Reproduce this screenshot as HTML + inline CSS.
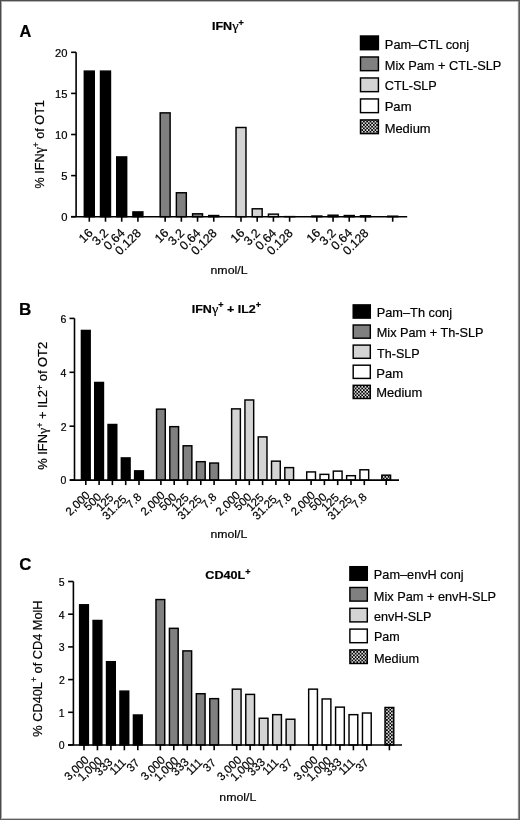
<!DOCTYPE html>
<html><head><meta charset="utf-8"><title>Figure</title>
<style>
html,body{margin:0;padding:0;background:#fff;}
body{width:520px;height:820px;overflow:hidden;}
svg{display:block;}
text{font-family:"Liberation Sans", Arial, Helvetica, sans-serif;fill:#000;stroke:#000;stroke-width:0.2px;}
.serif{font-family:"Liberation Serif",serif;}
.ax{stroke:#000;stroke-width:1.6;fill:none;}
.bar{stroke:#000;stroke-width:1.45;}
</style></head><body>
<svg width="520" height="820" viewBox="0 0 520 820">
<defs>
<pattern id="chk" width="3.3" height="3.4" patternUnits="userSpaceOnUse">
<rect width="3.3" height="3.4" fill="#000"/>
<rect x="0.1" y="0.1" width="1.55" height="1.55" fill="#fff"/>
<rect x="1.75" y="1.8" width="1.55" height="1.55" fill="#fff"/>
</pattern>
</defs>
<rect x="0" y="0" width="520" height="820" fill="#fff"/>
<text transform="translate(19.49 37.3) scale(0.9645 1)" font-weight="bold"><tspan font-size="17">A</tspan></text>
<text transform="translate(211.96 29.7) scale(1.0926 1)" font-weight="bold"><tspan font-size="11.5">IFN</tspan><tspan font-size="13.22" font-weight="normal" class="serif">γ</tspan><tspan font-size="8.28" dy="-4.2">+</tspan></text>
<path d="M76.1 52.3V216.7" class="ax"/>
<path d="M71.1 216.7H76.1" class="ax"/>
<text x="61.21" y="221.31" font-size="11.2">0</text>
<path d="M71.1 175.6H76.1" class="ax"/>
<text x="61.24" y="180.15" font-size="11.2">5</text>
<path d="M71.1 134.5H76.1" class="ax"/>
<text x="54.98" y="139.11" font-size="11.2">10</text>
<path d="M71.1 93.4H76.1" class="ax"/>
<text x="55.01" y="97.95" font-size="11.2">15</text>
<path d="M71.1 52.3H76.1" class="ax"/>
<text x="54.98" y="56.91" font-size="11.2">20</text>
<rect x="84.32" y="71.11" width="9.95" height="145.59" fill="#000" class="bar"/>
<path d="M89.3 216.7v5" class="ax"/>
<text x="93.56" y="233.74" font-size="12.3" text-anchor="end" transform="rotate(-45 93.56 233.74)">16</text>
<rect x="100.52" y="71.11" width="9.95" height="145.59" fill="#000" class="bar"/>
<path d="M105.5 216.7v5" class="ax"/>
<text x="109.14" y="233.83" font-size="12.3" text-anchor="end" transform="rotate(-45 109.14 233.83)">3.2</text>
<rect x="116.72" y="156.93" width="9.95" height="59.77" fill="#000" class="bar"/>
<path d="M121.7 216.7v5" class="ax"/>
<text x="125.5" y="233.79" font-size="12.3" text-anchor="end" transform="rotate(-45 125.5 233.79)">0.64</text>
<rect x="132.92" y="211.92" width="9.95" height="4.78" fill="#000" class="bar"/>
<path d="M137.9 216.7v5" class="ax"/>
<text x="141.88" y="234.03" font-size="12.3" text-anchor="end" transform="rotate(-45 141.88 234.03)">0.128</text>
<rect x="160.17" y="112.87" width="9.95" height="103.83" fill="#808080" class="bar"/>
<path d="M165.15 216.7v5" class="ax"/>
<text x="169.41" y="233.74" font-size="12.3" text-anchor="end" transform="rotate(-45 169.41 233.74)">16</text>
<rect x="176.37" y="192.76" width="9.95" height="23.94" fill="#808080" class="bar"/>
<path d="M181.35 216.7v5" class="ax"/>
<text x="184.99" y="233.83" font-size="12.3" text-anchor="end" transform="rotate(-45 184.99 233.83)">3.2</text>
<rect x="192.57" y="213.81" width="9.95" height="2.89" fill="#808080" class="bar"/>
<path d="M197.55 216.7v5" class="ax"/>
<text x="201.35" y="233.79" font-size="12.3" text-anchor="end" transform="rotate(-45 201.35 233.79)">0.64</text>
<rect x="208.77" y="215.53" width="9.95" height="1.17" fill="#808080" class="bar"/>
<path d="M213.75 216.7v5" class="ax"/>
<text x="217.73" y="234.03" font-size="12.3" text-anchor="end" transform="rotate(-45 217.73 234.03)">0.128</text>
<rect x="236.03" y="127.5" width="9.95" height="89.2" fill="#d4d4d4" class="bar"/>
<path d="M241 216.7v5" class="ax"/>
<text x="245.26" y="233.74" font-size="12.3" text-anchor="end" transform="rotate(-45 245.26 233.74)">16</text>
<rect x="252.22" y="208.79" width="9.95" height="7.91" fill="#d4d4d4" class="bar"/>
<path d="M257.2 216.7v5" class="ax"/>
<text x="260.84" y="233.83" font-size="12.3" text-anchor="end" transform="rotate(-45 260.84 233.83)">3.2</text>
<rect x="268.43" y="214.14" width="9.95" height="2.56" fill="#d4d4d4" class="bar"/>
<path d="M273.4 216.7v5" class="ax"/>
<text x="277.2" y="233.79" font-size="12.3" text-anchor="end" transform="rotate(-45 277.2 233.79)">0.64</text>
<rect x="284.63" y="216.6" width="9.95" height="0.1" fill="#d4d4d4" class="bar"/>
<path d="M289.6 216.7v5" class="ax"/>
<text x="293.58" y="234.03" font-size="12.3" text-anchor="end" transform="rotate(-45 293.58 234.03)">0.128</text>
<rect x="311.88" y="216.03" width="9.95" height="0.67" fill="#fff" class="bar"/>
<path d="M316.85 216.7v5" class="ax"/>
<text x="321.11" y="233.74" font-size="12.3" text-anchor="end" transform="rotate(-45 321.11 233.74)">16</text>
<rect x="328.07" y="215.21" width="9.95" height="1.49" fill="#fff" class="bar"/>
<path d="M333.05 216.7v5" class="ax"/>
<text x="336.69" y="233.83" font-size="12.3" text-anchor="end" transform="rotate(-45 336.69 233.83)">3.2</text>
<rect x="344.27" y="215.53" width="9.95" height="1.17" fill="#fff" class="bar"/>
<path d="M349.25 216.7v5" class="ax"/>
<text x="353.05" y="233.79" font-size="12.3" text-anchor="end" transform="rotate(-45 353.05 233.79)">0.64</text>
<rect x="360.47" y="215.78" width="9.95" height="0.92" fill="#fff" class="bar"/>
<path d="M365.45 216.7v5" class="ax"/>
<text x="369.43" y="234.03" font-size="12.3" text-anchor="end" transform="rotate(-45 369.43 234.03)">0.128</text>
<rect x="387.73" y="216.19" width="9.95" height="0.51" fill="url(#chk)" class="bar"/>
<path d="M392.7 216.7v5" class="ax"/>
<path d="M71 216.7H407.2" class="ax"/>
<text transform="translate(43.6 188.45) rotate(-90) scale(1.0228 1)"><tspan font-size="12.35">% IFN</tspan><tspan font-size="13.59" class="serif">γ</tspan><tspan font-size="8.4" dy="-4.3">+</tspan><tspan font-size="12.35" dy="4.3"> of OT1</tspan></text>
<text transform="translate(210.48 274.2) scale(1.0665 1)"><tspan font-size="11.6">nmol/L</tspan></text>
<rect x="360.5" y="36" width="17.9" height="13.7" fill="#000" class="bar" stroke-width="1.4"/>
<text transform="translate(384.85 48.6) scale(1.0439 1)"><tspan font-size="12.3">Pam–CTL conj</tspan></text>
<rect x="360.5" y="56.98" width="17.9" height="13.7" fill="#808080" class="bar" stroke-width="1.4"/>
<text transform="translate(384.85 70.2) scale(1.0372 1)"><tspan font-size="12.3">Mix Pam + CTL-SLP</tspan></text>
<rect x="360.5" y="77.96" width="17.9" height="13.7" fill="#d4d4d4" class="bar" stroke-width="1.4"/>
<text transform="translate(384.76 90.4) scale(1.0303 1)"><tspan font-size="12.3">CTL-SLP</tspan></text>
<rect x="360.5" y="98.94" width="17.9" height="13.7" fill="#fff" class="bar" stroke-width="1.4"/>
<text transform="translate(384.63 111.4) scale(1.0651 1)"><tspan font-size="12.3">Pam</tspan></text>
<rect x="360.5" y="119.92" width="17.9" height="13.7" fill="url(#chk)" class="bar" stroke-width="1.4"/>
<text transform="translate(384.64 132.6) scale(1.0518 1)"><tspan font-size="12.3">Medium</tspan></text>
<text transform="translate(18.96 314.6) scale(1.0031 1)" font-weight="bold"><tspan font-size="17">B</tspan></text>
<text transform="translate(191.76 312.6) scale(1.0869 1)" font-weight="bold"><tspan font-size="11.5">IFN</tspan><tspan font-size="13.22" font-weight="normal" class="serif">γ</tspan><tspan font-size="8.28" dy="-4.2">+</tspan><tspan font-size="11.5" dy="4.2"> + IL2</tspan><tspan font-size="8.28" dy="-4.2">+</tspan></text>
<path d="M74.5 318.4V480.1" class="ax"/>
<path d="M69.5 480.1H74.5" class="ax"/>
<text x="60.57" y="484.47" font-size="10.5">0</text>
<path d="M69.5 426.2H74.5" class="ax"/>
<text x="60.69" y="430.57" font-size="10.5">2</text>
<path d="M69.5 372.3H74.5" class="ax"/>
<text x="60.47" y="376.61" font-size="10.5">4</text>
<path d="M69.5 318.4H74.5" class="ax"/>
<text x="60.62" y="322.77" font-size="10.5">6</text>
<rect x="81.42" y="330.44" width="8.75" height="149.66" fill="#000" class="bar"/>
<path d="M85.8 480.1v5" class="ax"/>
<text x="90.52" y="495.92" font-size="11.5" text-anchor="end" transform="rotate(-45 90.52 495.92)">2,000</text>
<rect x="94.72" y="382.46" width="8.75" height="97.64" fill="#000" class="bar"/>
<path d="M99.1 480.1v5" class="ax"/>
<text x="102.12" y="497.62" font-size="11.5" text-anchor="end" transform="rotate(-45 102.12 497.62)">500</text>
<rect x="108.03" y="424.5" width="8.75" height="55.6" fill="#000" class="bar"/>
<path d="M112.4 480.1v5" class="ax"/>
<text x="114.4" y="498.23" font-size="11.5" text-anchor="end" transform="rotate(-45 114.4 498.23)">125</text>
<rect x="121.33" y="457.92" width="8.75" height="22.18" fill="#000" class="bar"/>
<path d="M125.7 480.1v5" class="ax"/>
<text x="127.4" y="500.03" font-size="11.5" text-anchor="end" transform="rotate(-45 127.4 500.03)">31.25</text>
<rect x="134.62" y="470.85" width="8.75" height="9.25" fill="#000" class="bar"/>
<path d="M139 480.1v5" class="ax"/>
<text x="142.19" y="497.83" font-size="11.5" text-anchor="end" transform="rotate(-45 142.19 497.83)">7.8</text>
<rect x="156.52" y="409.14" width="8.75" height="70.96" fill="#808080" class="bar"/>
<path d="M160.9 480.1v5" class="ax"/>
<text x="165.62" y="495.92" font-size="11.5" text-anchor="end" transform="rotate(-45 165.62 495.92)">2,000</text>
<rect x="169.82" y="426.66" width="8.75" height="53.44" fill="#808080" class="bar"/>
<path d="M174.2 480.1v5" class="ax"/>
<text x="177.22" y="497.62" font-size="11.5" text-anchor="end" transform="rotate(-45 177.22 497.62)">500</text>
<rect x="183.12" y="445.79" width="8.75" height="34.31" fill="#808080" class="bar"/>
<path d="M187.5 480.1v5" class="ax"/>
<text x="189.5" y="498.23" font-size="11.5" text-anchor="end" transform="rotate(-45 189.5 498.23)">125</text>
<rect x="196.42" y="461.69" width="8.75" height="18.41" fill="#808080" class="bar"/>
<path d="M200.8 480.1v5" class="ax"/>
<text x="202.5" y="500.03" font-size="11.5" text-anchor="end" transform="rotate(-45 202.5 500.03)">31.25</text>
<rect x="209.72" y="463.04" width="8.75" height="17.06" fill="#808080" class="bar"/>
<path d="M214.1 480.1v5" class="ax"/>
<text x="217.29" y="497.83" font-size="11.5" text-anchor="end" transform="rotate(-45 217.29 497.83)">7.8</text>
<rect x="231.62" y="408.87" width="8.75" height="71.23" fill="#d4d4d4" class="bar"/>
<path d="M236 480.1v5" class="ax"/>
<text x="240.72" y="495.92" font-size="11.5" text-anchor="end" transform="rotate(-45 240.72 495.92)">2,000</text>
<rect x="244.93" y="399.98" width="8.75" height="80.12" fill="#d4d4d4" class="bar"/>
<path d="M249.3 480.1v5" class="ax"/>
<text x="252.32" y="497.62" font-size="11.5" text-anchor="end" transform="rotate(-45 252.32 497.62)">500</text>
<rect x="258.23" y="436.9" width="8.75" height="43.2" fill="#d4d4d4" class="bar"/>
<path d="M262.6 480.1v5" class="ax"/>
<text x="264.6" y="498.23" font-size="11.5" text-anchor="end" transform="rotate(-45 264.6 498.23)">125</text>
<rect x="271.52" y="461.15" width="8.75" height="18.95" fill="#d4d4d4" class="bar"/>
<path d="M275.9 480.1v5" class="ax"/>
<text x="277.6" y="500.03" font-size="11.5" text-anchor="end" transform="rotate(-45 277.6 500.03)">31.25</text>
<rect x="284.82" y="467.62" width="8.75" height="12.48" fill="#d4d4d4" class="bar"/>
<path d="M289.2 480.1v5" class="ax"/>
<text x="292.39" y="497.83" font-size="11.5" text-anchor="end" transform="rotate(-45 292.39 497.83)">7.8</text>
<rect x="306.72" y="471.93" width="8.75" height="8.17" fill="#fff" class="bar"/>
<path d="M311.1 480.1v5" class="ax"/>
<text x="315.82" y="495.92" font-size="11.5" text-anchor="end" transform="rotate(-45 315.82 495.92)">2,000</text>
<rect x="320.02" y="474.36" width="8.75" height="5.74" fill="#fff" class="bar"/>
<path d="M324.4 480.1v5" class="ax"/>
<text x="327.42" y="497.62" font-size="11.5" text-anchor="end" transform="rotate(-45 327.42 497.62)">500</text>
<rect x="333.32" y="471.12" width="8.75" height="8.98" fill="#fff" class="bar"/>
<path d="M337.7 480.1v5" class="ax"/>
<text x="339.7" y="498.23" font-size="11.5" text-anchor="end" transform="rotate(-45 339.7 498.23)">125</text>
<rect x="346.62" y="475.7" width="8.75" height="4.4" fill="#fff" class="bar"/>
<path d="M351 480.1v5" class="ax"/>
<text x="352.7" y="500.03" font-size="11.5" text-anchor="end" transform="rotate(-45 352.7 500.03)">31.25</text>
<rect x="359.92" y="469.78" width="8.75" height="10.32" fill="#fff" class="bar"/>
<path d="M364.3 480.1v5" class="ax"/>
<text x="367.49" y="497.83" font-size="11.5" text-anchor="end" transform="rotate(-45 367.49 497.83)">7.8</text>
<rect x="381.82" y="475.17" width="8.75" height="4.93" fill="url(#chk)" class="bar"/>
<path d="M386.2 480.1v5" class="ax"/>
<path d="M70 480.1H399" class="ax"/>
<text transform="translate(47 469.86) rotate(-90) scale(1.0583 1)"><tspan font-size="12.2">% IFN</tspan><tspan font-size="13.42" class="serif">γ</tspan><tspan font-size="8.3" dy="-4.3">+</tspan><tspan font-size="12.2" dy="4.3"> + IL2</tspan><tspan font-size="8.3" dy="-4.3">+</tspan><tspan font-size="12.2" dy="4.3"> of OT2</tspan></text>
<text transform="translate(210.48 538) scale(1.0606 1)"><tspan font-size="11.6">nmol/L</tspan></text>
<rect x="353.2" y="304.9" width="17.1" height="13.2" fill="#000" class="bar" stroke-width="1.4"/>
<text transform="translate(376.75 316.8) scale(1.0392 1)"><tspan font-size="12.3">Pam–Th conj</tspan></text>
<rect x="353.2" y="325" width="17.1" height="13.2" fill="#808080" class="bar" stroke-width="1.4"/>
<text transform="translate(376.76 337) scale(1.0334 1)"><tspan font-size="12.3">Mix Pam + Th-SLP</tspan></text>
<rect x="353.2" y="345.1" width="17.1" height="13.2" fill="#d4d4d4" class="bar" stroke-width="1.4"/>
<text transform="translate(377.12 357.6) scale(1.0227 1)"><tspan font-size="12.3">Th-SLP</tspan></text>
<rect x="353.2" y="365.2" width="17.1" height="13.2" fill="#fff" class="bar" stroke-width="1.4"/>
<text transform="translate(376.33 377.5) scale(1.0651 1)"><tspan font-size="12.3">Pam</tspan></text>
<rect x="353.2" y="385.3" width="17.1" height="13.2" fill="url(#chk)" class="bar" stroke-width="1.4"/>
<text transform="translate(376.34 397.4) scale(1.0518 1)"><tspan font-size="12.3">Medium</tspan></text>
<text transform="translate(19.21 569.6) scale(0.9897 1)" font-weight="bold"><tspan font-size="17">C</tspan></text>
<text transform="translate(205.28 579.1) scale(1.0975 1)" font-weight="bold"><tspan font-size="11.5">CD40L</tspan><tspan font-size="8.28" dy="-4.2">+</tspan></text>
<path d="M73.4 581.5V745" class="ax"/>
<path d="M68.1 745H73.4" class="ax"/>
<text x="58.77" y="749.37" font-size="10.5">0</text>
<path d="M68.1 712.3H73.4" class="ax"/>
<text x="58.87" y="716.61" font-size="10.5">1</text>
<path d="M68.1 679.6H73.4" class="ax"/>
<text x="58.89" y="683.97" font-size="10.5">2</text>
<path d="M68.1 646.9H73.4" class="ax"/>
<text x="58.82" y="651.27" font-size="10.5">3</text>
<path d="M68.1 614.2H73.4" class="ax"/>
<text x="58.67" y="618.51" font-size="10.5">4</text>
<path d="M68.1 581.5H73.4" class="ax"/>
<text x="58.8" y="585.81" font-size="10.5">5</text>
<rect x="79.62" y="604.79" width="8.75" height="140.21" fill="#000" class="bar"/>
<path d="M84 745v5.3" class="ax"/>
<text x="89.47" y="760.77" font-size="11.5" text-anchor="end" transform="rotate(-45 89.47 760.77)">3,000</text>
<rect x="93.08" y="620.48" width="8.75" height="124.52" fill="#000" class="bar"/>
<path d="M97.45 745v5.3" class="ax"/>
<text x="102.67" y="761.42" font-size="11.5" text-anchor="end" transform="rotate(-45 102.67 761.42)">1,000</text>
<rect x="106.53" y="661.69" width="8.75" height="83.31" fill="#000" class="bar"/>
<path d="M110.9 745v5.3" class="ax"/>
<text x="113.19" y="762.82" font-size="11.5" text-anchor="end" transform="rotate(-45 113.19 762.82)">333</text>
<rect x="119.97" y="691.12" width="8.75" height="53.88" fill="#000" class="bar"/>
<path d="M124.35 745v5.3" class="ax"/>
<text x="126.65" y="763.24" font-size="11.5" text-anchor="end" transform="rotate(-45 126.65 763.24)">111</text>
<rect x="133.43" y="714.99" width="8.75" height="30.01" fill="#000" class="bar"/>
<path d="M137.8 745v5.3" class="ax"/>
<text x="140.33" y="763.39" font-size="11.5" text-anchor="end" transform="rotate(-45 140.33 763.39)">37</text>
<rect x="155.97" y="599.56" width="8.75" height="145.44" fill="#808080" class="bar"/>
<path d="M160.35 745v5.3" class="ax"/>
<text x="165.82" y="760.77" font-size="11.5" text-anchor="end" transform="rotate(-45 165.82 760.77)">3,000</text>
<rect x="169.42" y="628.33" width="8.75" height="116.67" fill="#808080" class="bar"/>
<path d="M173.8 745v5.3" class="ax"/>
<text x="179.02" y="761.42" font-size="11.5" text-anchor="end" transform="rotate(-45 179.02 761.42)">1,000</text>
<rect x="182.88" y="650.89" width="8.75" height="94.11" fill="#808080" class="bar"/>
<path d="M187.25 745v5.3" class="ax"/>
<text x="189.54" y="762.82" font-size="11.5" text-anchor="end" transform="rotate(-45 189.54 762.82)">333</text>
<rect x="196.32" y="693.73" width="8.75" height="51.27" fill="#808080" class="bar"/>
<path d="M200.7 745v5.3" class="ax"/>
<text x="203" y="763.24" font-size="11.5" text-anchor="end" transform="rotate(-45 203 763.24)">111</text>
<rect x="209.77" y="698.64" width="8.75" height="46.36" fill="#808080" class="bar"/>
<path d="M214.15 745v5.3" class="ax"/>
<text x="216.68" y="763.39" font-size="11.5" text-anchor="end" transform="rotate(-45 216.68 763.39)">37</text>
<rect x="232.32" y="689.15" width="8.75" height="55.85" fill="#d4d4d4" class="bar"/>
<path d="M236.7 745v5.3" class="ax"/>
<text x="242.17" y="760.77" font-size="11.5" text-anchor="end" transform="rotate(-45 242.17 760.77)">3,000</text>
<rect x="245.77" y="694.39" width="8.75" height="50.61" fill="#d4d4d4" class="bar"/>
<path d="M250.15 745v5.3" class="ax"/>
<text x="255.37" y="761.42" font-size="11.5" text-anchor="end" transform="rotate(-45 255.37 761.42)">1,000</text>
<rect x="259.22" y="718.26" width="8.75" height="26.74" fill="#d4d4d4" class="bar"/>
<path d="M263.6 745v5.3" class="ax"/>
<text x="265.89" y="762.82" font-size="11.5" text-anchor="end" transform="rotate(-45 265.89 762.82)">333</text>
<rect x="272.67" y="714.66" width="8.75" height="30.34" fill="#d4d4d4" class="bar"/>
<path d="M277.05 745v5.3" class="ax"/>
<text x="279.35" y="763.24" font-size="11.5" text-anchor="end" transform="rotate(-45 279.35 763.24)">111</text>
<rect x="286.12" y="719.24" width="8.75" height="25.76" fill="#d4d4d4" class="bar"/>
<path d="M290.5 745v5.3" class="ax"/>
<text x="293.03" y="763.39" font-size="11.5" text-anchor="end" transform="rotate(-45 293.03 763.39)">37</text>
<rect x="308.67" y="689.15" width="8.75" height="55.85" fill="#fff" class="bar"/>
<path d="M313.05 745v5.3" class="ax"/>
<text x="318.52" y="760.77" font-size="11.5" text-anchor="end" transform="rotate(-45 318.52 760.77)">3,000</text>
<rect x="322.12" y="698.96" width="8.75" height="46.04" fill="#fff" class="bar"/>
<path d="M326.5 745v5.3" class="ax"/>
<text x="331.72" y="761.42" font-size="11.5" text-anchor="end" transform="rotate(-45 331.72 761.42)">1,000</text>
<rect x="335.57" y="707.14" width="8.75" height="37.86" fill="#fff" class="bar"/>
<path d="M339.95 745v5.3" class="ax"/>
<text x="342.24" y="762.82" font-size="11.5" text-anchor="end" transform="rotate(-45 342.24 762.82)">333</text>
<rect x="349.02" y="714.66" width="8.75" height="30.34" fill="#fff" class="bar"/>
<path d="M353.4 745v5.3" class="ax"/>
<text x="355.7" y="763.24" font-size="11.5" text-anchor="end" transform="rotate(-45 355.7 763.24)">111</text>
<rect x="362.47" y="713.02" width="8.75" height="31.98" fill="#fff" class="bar"/>
<path d="M366.85 745v5.3" class="ax"/>
<text x="369.38" y="763.39" font-size="11.5" text-anchor="end" transform="rotate(-45 369.38 763.39)">37</text>
<rect x="385.02" y="707.47" width="8.75" height="37.53" fill="url(#chk)" class="bar"/>
<path d="M389.4 745v5.3" class="ax"/>
<path d="M68 745H402" class="ax"/>
<text transform="translate(41.5 736.66) rotate(-90) scale(1.0343 1)"><tspan font-size="12.35">% CD40L</tspan><tspan font-size="8.4" dy="-4.3">+</tspan><tspan font-size="12.35" dy="4.3"> of CD4 MolH</tspan></text>
<text transform="translate(219.28 800.8) scale(1.0665 1)"><tspan font-size="11.6">nmol/L</tspan></text>
<rect x="349.9" y="566.7" width="17.4" height="13.6" fill="#000" class="bar" stroke-width="1.4"/>
<text transform="translate(373.86 578.9) scale(1.0427 1)"><tspan font-size="12.2">Pam–envH conj</tspan></text>
<rect x="349.9" y="587.5" width="17.4" height="13.6" fill="#808080" class="bar" stroke-width="1.4"/>
<text transform="translate(373.85 600.5) scale(1.0459 1)"><tspan font-size="12.2">Mix Pam + envH-SLP</tspan></text>
<rect x="349.9" y="608.3" width="17.4" height="13.6" fill="#d4d4d4" class="bar" stroke-width="1.4"/>
<text transform="translate(374.06 621) scale(1.0341 1)"><tspan font-size="12.2">envH-SLP</tspan></text>
<rect x="349.9" y="629.1" width="17.4" height="13.6" fill="#fff" class="bar" stroke-width="1.4"/>
<text transform="translate(373.97 641.2) scale(1.0309 1)"><tspan font-size="12.2">Pam</tspan></text>
<rect x="349.9" y="649.9" width="17.4" height="13.6" fill="url(#chk)" class="bar" stroke-width="1.4"/>
<text transform="translate(373.96 662.7) scale(1.0436 1)"><tspan font-size="12.2">Medium</tspan></text>
<g shape-rendering="crispEdges">
<rect x="0" y="0" width="520" height="1" fill="#4f4f4f"/>
<rect x="1" y="1" width="517" height="1" fill="#b4b4b4"/>
<rect x="0" y="0" width="1" height="820" fill="#4a4a4a"/>
<rect x="1" y="1" width="1" height="818" fill="#a8a8a8"/>
<rect x="519" y="0" width="1" height="820" fill="#5c5c5c"/>
<rect x="518" y="1" width="1" height="818" fill="#8e8e8e"/>
<rect x="517" y="2" width="1" height="816" fill="#f0f0f0"/>
<rect x="0" y="819" width="520" height="1" fill="#5e5e5e"/>
<rect x="1" y="818" width="517" height="1" fill="#c4c4c4"/>
</g>
</svg>
</body></html>
